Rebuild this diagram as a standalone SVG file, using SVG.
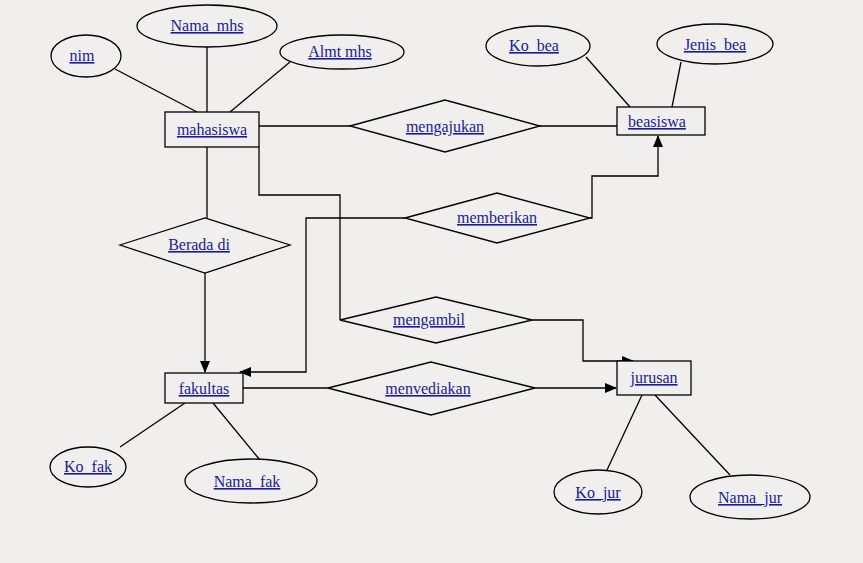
<svg xmlns="http://www.w3.org/2000/svg" width="863" height="563" viewBox="0 0 863 563">
<defs>
<marker id="ar" markerWidth="12" markerHeight="10" refX="11" refY="5" orient="auto" markerUnits="userSpaceOnUse"><path d="M0,0 L12,5 L0,10 Z" fill="#000"/></marker>
</defs>
<style>
.s{fill:none;stroke:#000;stroke-width:1.3}
.n{fill:#f0efed;stroke:#000;stroke-width:1.3}
text{font-family:"Liberation Serif",serif;font-size:16px;fill:#1a1a99;text-anchor:middle;text-decoration:underline}
</style>
<rect width="863" height="563" fill="#f0efed"/>
<g id="connectors" class="s">
<path d="M115,69 L197,112"/><path d="M207,47 L207,112"/><path d="M290,62 L230,112"/>
<path d="M259,126 L350,126"/><path d="M540,126 L617,126"/>
<path d="M586,57 L630,107"/><path d="M681,62 L672,107"/>
<path d="M207,147 L207,218"/>
<path d="M205,273 L205,372" marker-end="url(#ar)"/>
<path d="M259,147 L259,195 L340,195 L340,320"/>
<path d="M532,320 L583,320 L583,361 L633,361" marker-end="url(#ar)"/>
<path d="M405,218 L306,218 L306,372 L240,372" marker-end="url(#ar)"/>
<path d="M590,218 L592,218 L592,176 L658,176 L658,136" marker-end="url(#ar)"/>
<path d="M243,388 L328,388"/>
<path d="M535,388 L616,388" marker-end="url(#ar)"/>
<path d="M120,447 L185,403"/><path d="M213,403 L260,460"/>
<path d="M642,395 L607,470"/><path d="M655,395 L730,475"/>
</g>
<g id="nim"><ellipse class="n" cx="86" cy="56" rx="35" ry="21"/><text x="82" y="61">nim</text></g>
<g id="nama_mhs"><ellipse class="n" cx="207" cy="26" rx="70" ry="21"/><text x="207" y="31">Nama_mhs</text></g>
<g id="almt_mhs"><ellipse class="n" cx="342" cy="52" rx="62" ry="17"/><text x="340" y="57">Almt  mhs</text></g>
<g id="mahasiswa"><rect class="n" x="165" y="112" width="94" height="35"/><text x="212" y="135">mahasiswa</text></g>
<g id="mengajukan"><path class="n" d="M350,126 L445,100 L540,126 L445,152 Z"/><text x="445" y="132">mengajukan</text></g>
<g id="beasiswa"><rect class="n" x="617" y="107" width="88" height="28"/><text x="657" y="127">beasiswa</text></g>
<g id="ko_bea"><ellipse class="n" cx="538" cy="46" rx="52" ry="20"/><text x="534" y="51">Ko_bea</text></g>
<g id="jenis_bea"><ellipse class="n" cx="715" cy="44" rx="58" ry="20"/><text x="715" y="50">Jenis_bea</text></g>
<g id="berada_di"><path class="n" d="M120,245 L205,218 L290,245 L205,273 Z"/><text x="199" y="250">Berada di</text></g>
<g id="memberikan"><path class="n" d="M405,218 L497,193 L590,218 L497,243 Z"/><text x="497" y="223">memberikan</text></g>
<g id="mengambil"><path class="n" d="M340,320 L436,297 L532,320 L436,343 Z"/><text x="429" y="325">mengambil</text></g>
<g id="fakultas"><rect class="n" x="165" y="373" width="78" height="30"/><text x="204" y="394">fakultas</text></g>
<g id="menvediakan"><path class="n" d="M328,388 L431,362 L535,388 L431,415 Z"/><text x="428" y="394">menvediakan</text></g>
<g id="jurusan"><rect class="n" x="617" y="361" width="74" height="34"/><text x="654" y="383">jurusan</text></g>
<g id="ko_fak"><ellipse class="n" cx="88" cy="467" rx="38" ry="20"/><text x="88" y="472">Ko_fak</text></g>
<g id="nama_fak"><ellipse class="n" cx="251" cy="481" rx="66" ry="22"/><text x="247" y="487">Nama_fak</text></g>
<g id="ko_jur"><ellipse class="n" cx="598" cy="492" rx="44" ry="22"/><text x="598" y="498">Ko_jur</text></g>
<g id="nama_jur"><ellipse class="n" cx="750" cy="497" rx="60" ry="22"/><text x="750" y="503">Nama_jur</text></g>
</svg>
